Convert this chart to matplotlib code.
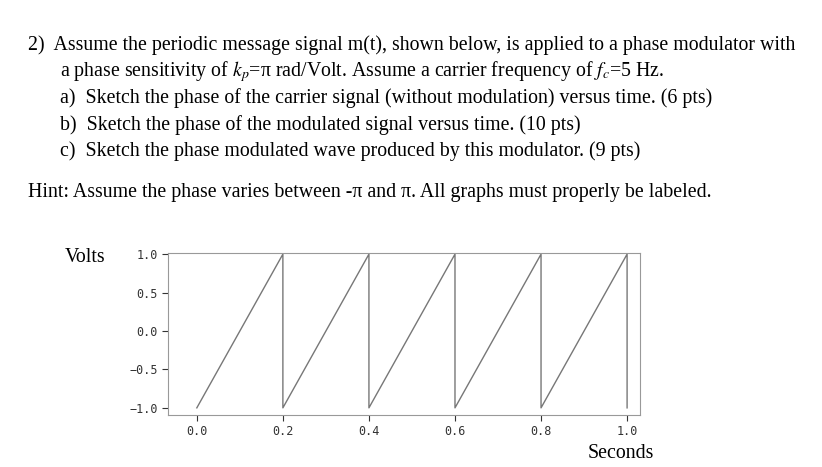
import matplotlib
matplotlib.use("Agg")
import matplotlib.pyplot as plt

t = [0.0, 0.2, 0.2, 0.4, 0.4, 0.6, 0.6, 0.8, 0.8, 1.0, 1.0]
m = [-1.0, 1.0, -1.0, 1.0, -1.0, 1.0, -1.0, 1.0, -1.0, 1.0, -1.0]
xticks = [0.0, 0.2, 0.4, 0.6, 0.8, 1.0]
yticks = [-1.0, -0.5, 0.0, 0.5, 1.0]

plt.rcParams['mathtext.fontset'] = 'stix'
fig = plt.figure(figsize=(8.22, 4.67), dpi=100)
serif = dict(family='Liberation Serif', fontsize=14.3, va='center')
lines = [
    (28, 45, "2)  Assume the periodic message signal m(t), shown below, is applied to a phase modulator with"),
    (60, 72, "a phase sensitivity of $k_p$=π rad/Volt. Assume a carrier frequency of $f_c$=5 Hz."),
    (60, 98, "a)  Sketch the phase of the carrier signal (without modulation) versus time. (6 pts)"),
    (60, 125, "b)  Sketch the phase of the modulated signal versus time. (10 pts)"),
    (60, 151, "c)  Sketch the phase modulated wave produced by this modulator. (9 pts)"),
    (28, 193, "Hint: Assume the phase varies between -π and π. All graphs must properly be labeled."),
]
for x, y, s in lines:
    fig.text(x / 822, 1 - y / 467, s, **serif)
fig.text(65 / 822, 1 - 258 / 467, "Volts", **serif)
fig.text(588 / 822, 1 - 454 / 467, "Seconds", **serif)

ax = fig.add_axes([168 / 822, 52 / 467, 472 / 822, 162 / 467])
ax.plot(t, m, color='#777777', lw=1.0)
ax.set_xlim(-0.067, 1.030)
ax.set_ylim(-1.093, 1.015)
ax.set_xticks(xticks)
ax.set_xticklabels([f"{v:.1f}" for v in xticks])
ax.set_yticks(yticks)
ax.set_yticklabels([f"{v:.1f}".replace('-', '−') for v in yticks])
ax.tick_params(labelsize=8.5, colors='#333333', length=4)
for lab in ax.get_xticklabels() + ax.get_yticklabels():
    lab.set_family('DejaVu Sans Mono')
for s in ax.spines.values():
    s.set_color('#999999')
fig.savefig("out.png", dpi=100)
